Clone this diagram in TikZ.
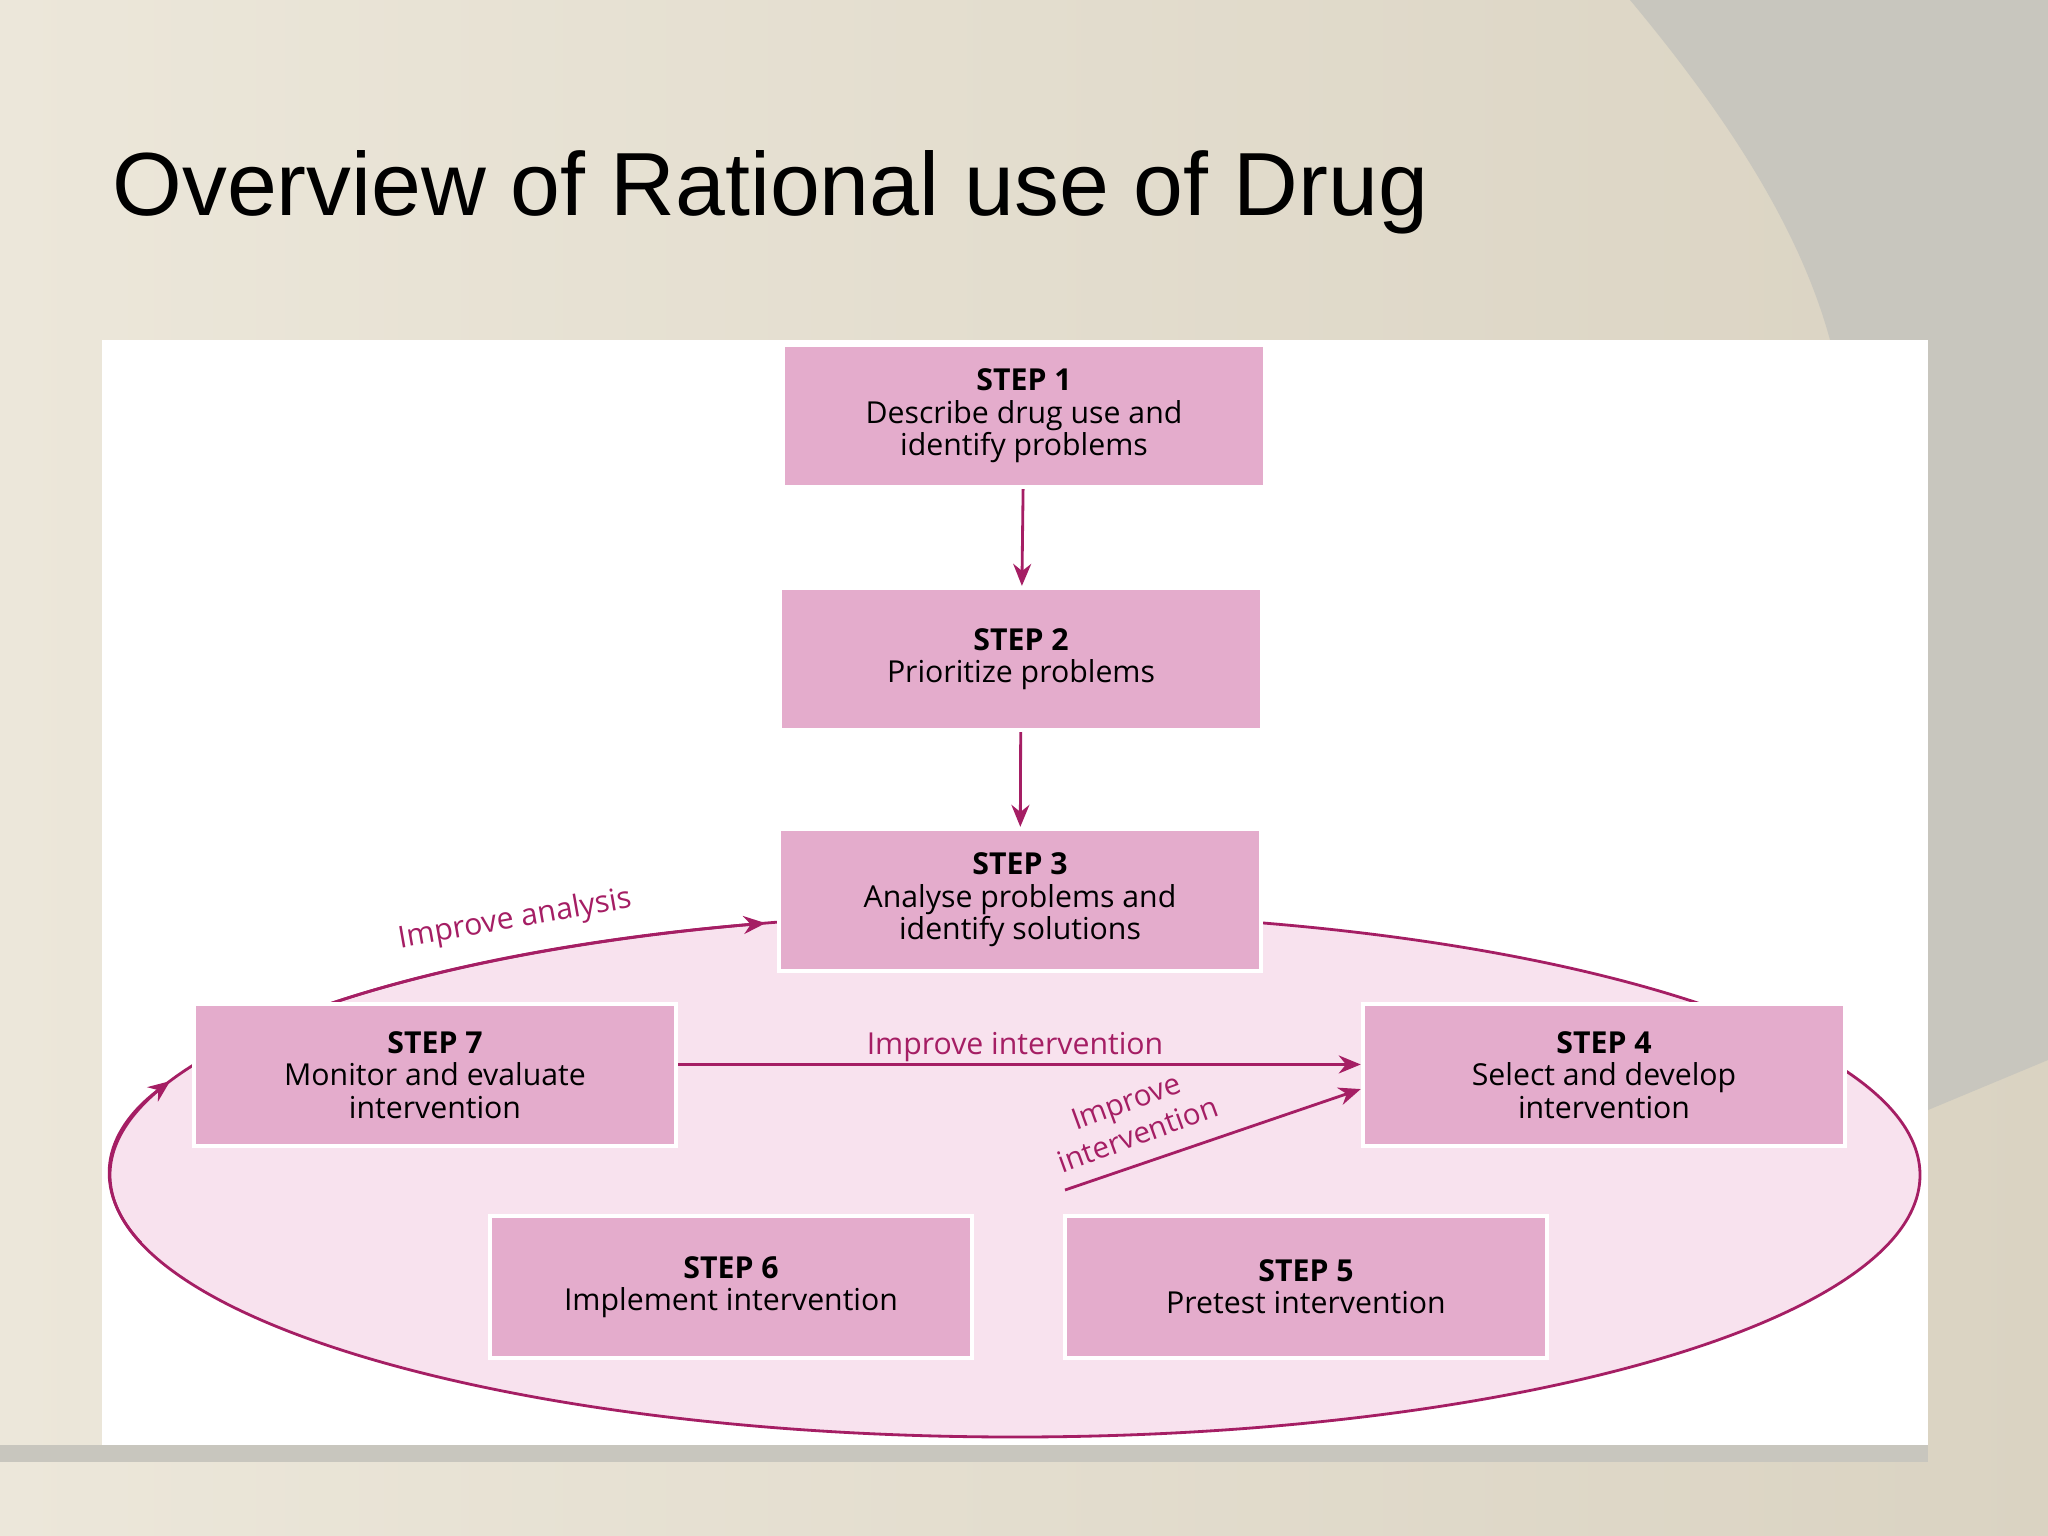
\documentclass[tikz,border=0pt]{standalone}
\usepackage{fontspec}
\setmainfont{Liberation Sans}
\newfontfamily\boxfont{Open Sans}
\usetikzlibrary{positioning,arrows.meta}
\definecolor{stepfill}{RGB}{228,172,204}
\definecolor{ringfill}{RGB}{248,226,238}
\definecolor{ringline}{RGB}{165,30,100}
\definecolor{slidebg}{RGB}{218,211,194}
\definecolor{slidelight}{RGB}{236,231,218}
\definecolor{slidegray}{RGB}{200,198,190}
\begin{document}
\begin{tikzpicture}[x=0.01cm, y=-0.01cm,
        every node/.style={align=center},
        stepbox/.style={rectangle, draw=white, line width=1.2pt, fill=stepfill, minimum width=4.82cm, minimum height=1.42cm, inner sep=2pt, font=\boxfont\fontsize{8.6}{9.2}\selectfont},
        arrow/.style={-{Stealth[length=2.2mm,width=1.8mm]}, ringline, line width=0.8pt},
        looplabel/.style={text=ringline, font=\boxfont\fontsize{8.6}{9}\selectfont}
    ]
    % Slide background
    \shade[left color=slidelight, right color=slidebg] (0,0) rectangle (2048,1536);
    \fill[slidegray] (1630,0) .. controls (1730,120) and (1800,230) .. (1830,340) -- (1928,340) -- (1928,1110) -- (2048,1060) -- (2048,0) -- cycle;
    \fill[slidegray] (0,1445) rectangle (1928,1462);
    \node[anchor=west, font=\fontsize{25.5}{28}\selectfont] (title) at (100,192) {Overview of Rational use of Drug};
    % White panel and ring
    \fill[white] (102,340) rectangle (1928,1445);
    \filldraw[fill=ringfill, draw=ringline, line width=0.8pt] (1015,1175) ellipse [x radius=905, y radius=262];
    \draw[arrow] (1015,1175) ++(-150:905 and 262) arc[start angle=-150, end angle=-106, x radius=905, y radius=262];
    \draw[arrow] (1015,1175) ++(-195:905 and 262) arc[start angle=-195, end angle=-159, x radius=905, y radius=262];
    % Nodes
    \node[stepbox] (s1) at (1024,416) {\textbf{STEP 1}\\Describe drug use and\\identify problems};
    \node[stepbox] (s2) at (1021,659) {\textbf{STEP 2}\\Prioritize problems};
    \node[stepbox] (s3) at (1020,900) {\textbf{STEP 3}\\Analyse problems and\\identify solutions};
    \node[stepbox] (s7) at (435,1075) {\textbf{STEP 7}\\Monitor and evaluate\\intervention};
    \node[stepbox] (s4) at (1604,1075) {\textbf{STEP 4}\\Select and develop\\intervention};
    \node[stepbox] (s6) at (731,1287) {\textbf{STEP 6}\\Implement intervention};
    \node[stepbox] (s5) at (1306,1287) {\textbf{STEP 5}\\Pretest intervention};
    \coordinate (c5) at (1065,1190);
    % Arrows
    \draw[arrow] (s1) -- (s2);
    \draw[arrow] (s2) -- (s3);
    \draw[arrow] ([yshift=3pt]s7.east) -- ([yshift=3pt]s4.west);
    \draw[arrow] (c5) -- ([yshift=-4pt]s4.west);
    % Labels
    \node[looplabel, rotate=10] (lanalysis) at (515,920) {Improve analysis};
    \node[looplabel] (lintervention) at (1015,1047) {Improve intervention};
    \node[looplabel, rotate=20, font=\boxfont\fontsize{8.4}{10}\selectfont] (lpretest) at (1132,1118) {Improve\\intervention};
\end{tikzpicture}
\end{document}
